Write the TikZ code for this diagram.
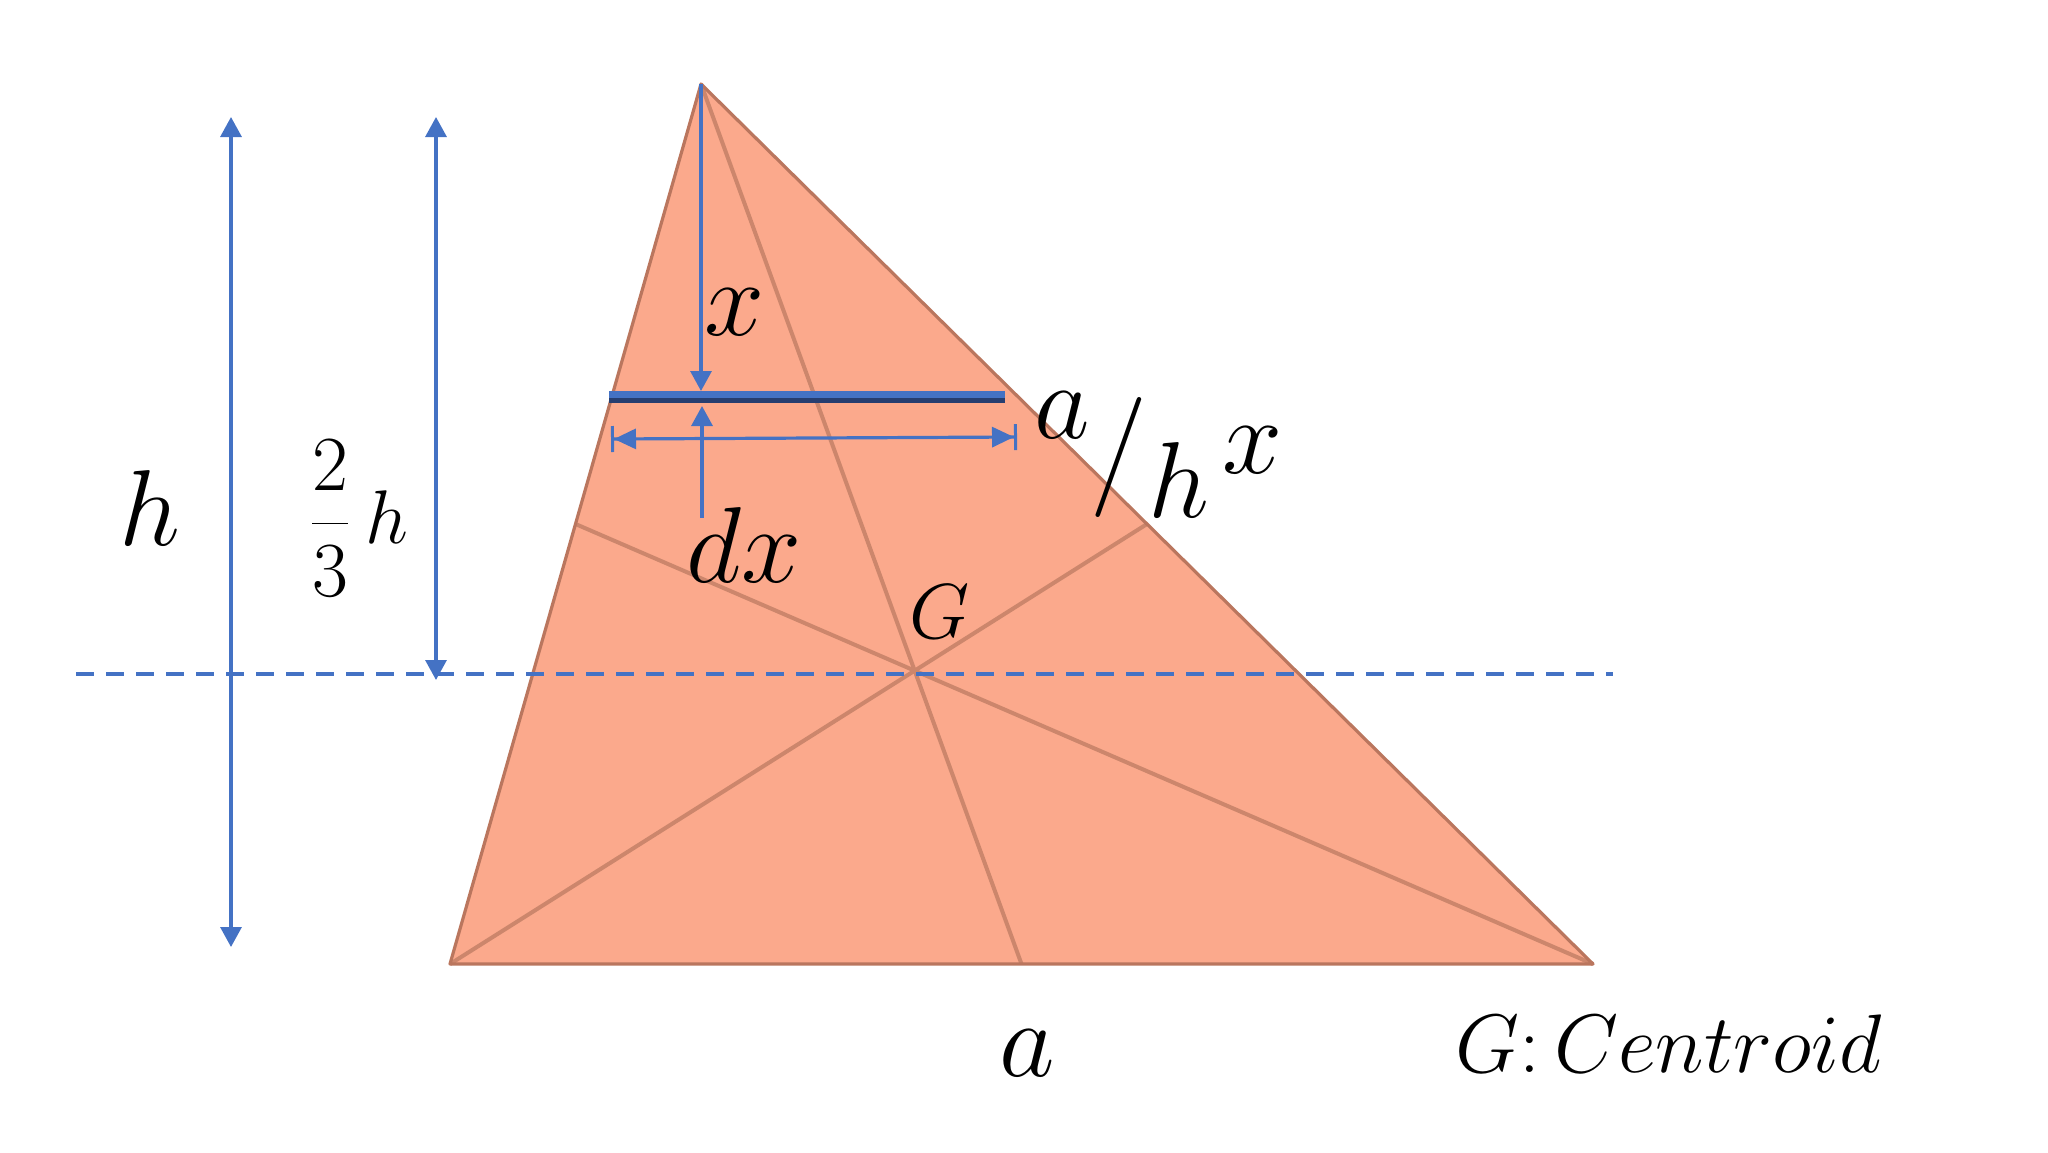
\RequirePackage{fix-cm}
\documentclass[tikz,border=0pt]{standalone}
\usetikzlibrary{arrows.meta,calc}
\definecolor{tri}{RGB}{251,169,140}
\definecolor{med}{RGB}{204,134,108}
\definecolor{triedge}{RGB}{186,118,94}
\definecolor{bl}{RGB}{68,114,196}
\definecolor{bldark}{RGB}{38,62,112}
\begin{document}
\begin{tikzpicture}[x=0.5pt,y=-0.5pt,
  bigl/.style={inner sep=0pt, font=\fontsize{54}{60}\selectfont},
  midl/.style={inner sep=0pt, font=\fontsize{39}{46}\selectfont},
  medianline/.style={draw=med, line width=2pt},
  bluearrow/.style={draw=bl, line width=1.6pt},
  dashline/.style={draw=bl, line width=2pt, dash pattern=on 9pt off 6pt}]
\useasboundingbox (0,0) rectangle (2048,1152);
% triangle
\coordinate (A) at (701,84);
\coordinate (B) at (450,964);
\coordinate (C) at (1593,964);
\coordinate (mBC) at ($(B)!0.5!(C)$);
\coordinate (mAC) at ($(A)!0.5!(C)$);
\coordinate (mAB) at ($(A)!0.5!(B)$);
\fill[tri] (A) -- (B) -- (C) -- cycle;
\draw[medianline] (A) -- (mBC);
\draw[medianline] (B) -- (mAC);
\draw[medianline] (C) -- (mAB);
\draw[triedge, line width=1.6pt, line join=round] (A) -- (B) -- (C) -- cycle;
% dashed line through centroid
\coordinate (dL) at (76,674);
\coordinate (dR) at (1613,674);
\draw[dashline] (dL) -- (dR);
% h arrow
\coordinate (h1) at (231,117);
\coordinate (h2) at (231,947);
\draw[bluearrow, {Triangle[width=10.5pt,length=10pt]}-{Triangle[width=10.5pt,length=10pt]}] (h1) -- (h2);
% 2/3 h arrow
\coordinate (t1) at (436,117);
\coordinate (t2) at (436,680);
\draw[bluearrow, {Triangle[width=10.5pt,length=10pt]}-{Triangle[width=10.5pt,length=10pt]}] (t1) -- (t2);
% strip
\fill[bl] (609,391) rectangle (1005,403);
\fill[bldark] (609,398) rectangle (1005,403);
% x arrow
\coordinate (x2) at (701,391);
\draw[bluearrow, -{Triangle[width=10.5pt,length=10pt]}] (A) -- (x2);
% dx arrow
\coordinate (d1) at (702,518);
\coordinate (d2) at (702,406);
\draw[bluearrow, -{Triangle[width=10.5pt,length=10pt]}] (d1) -- (d2);
% width arrow
\coordinate (w1) at (611,439);
\coordinate (w2) at (1017,437);
\draw[bluearrow, {Bar[width=13pt,line width=1.5pt]Triangle[width=10pt,length=11pt]}-{Triangle[width=10pt,length=11pt]Bar[width=13pt,line width=1.5pt]}] (w1) -- (w2);
% labels
\node[bigl] (lh) at (150,508) {$h$};
\node[midl, anchor=base] (lf) at (330,543) {$\displaystyle\frac{2}{3}$};
\node[inner sep=0pt, font=\fontsize{38}{46}\selectfont, anchor=base] (lfh) at (387,543) {$h$};
\node[bigl] (lx) at (735,312) {$x$};
\node[bigl] (ldx) at (744,545) {$dx$};
\node[bigl, anchor=base west] (lw) at (1034,517) {\raisebox{39.5pt}{$a$}\raisebox{15pt}{\fontsize{60}{60}\selectfont$/$}$h$\kern6.5pt\raisebox{22pt}{$x$}};
\node[midl] (lG) at (940,612) {$G$};
\node[bigl] (lab) at (1027,1053) {$a$};
\node[inner sep=0pt, font=\fontsize{41.5}{46}\selectfont, anchor=west] (lc) at (1455,1044) {$G\colon Centroid$};
\end{tikzpicture}
\end{document}
